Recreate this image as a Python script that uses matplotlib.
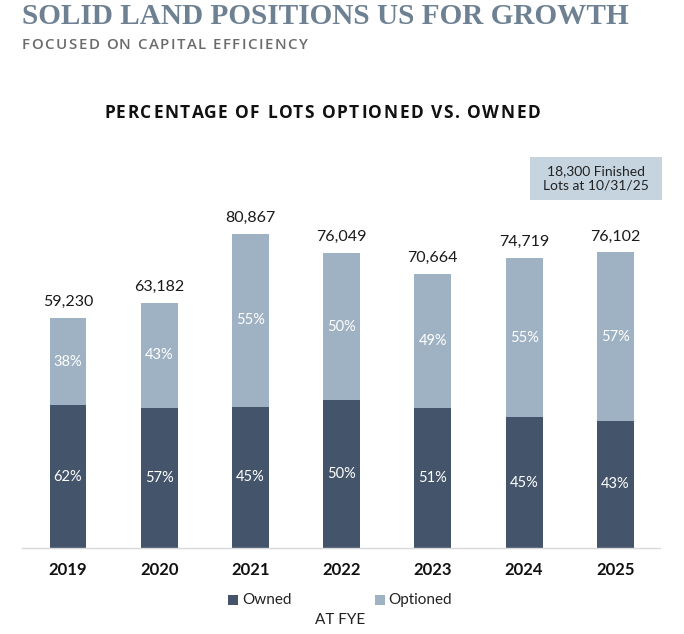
import matplotlib.pyplot as plt
import numpy as np
from matplotlib.patches import Rectangle

# data
years = ['2019', '2020', '2021', '2022', '2023', '2024', '2025']
total_lots = [59230, 63182, 80867, 76049, 70664, 74719, 76102]
owned_pct = [62, 57, 45, 50, 51, 45, 43]
optioned_pct = [38, 43, 55, 50, 49, 55, 57]

OWNED = '#44546a'
OPTIONED = '#9fb2c3'
SANS = ['Lato', 'DejaVu Sans']
WIDE = ['Open Sans', 'DejaVu Sans']


def spaced_text(fig, x_px, y_px, s, gap, ha='left', **kw):
    # letter-spaced text, positions in pixels from the top left
    r = fig.canvas.get_renderer()
    W, H = fig.bbox.width, fig.bbox.height

    def width(txt):
        t = fig.text(0, 0, txt + 'X', **kw)
        w = t.get_window_extent(r).width
        t.remove()
        return w

    wx = width('')
    offs = [width(s[:i]) - wx + i * gap for i in range(len(s))]
    total = width(s) - wx + (len(s) - 1) * gap
    if ha == 'center':
        x_px -= total / 2
    for ch, o in zip(s, offs):
        if ch != ' ':
            fig.text((x_px + o) / W, 1 - y_px / H, ch, ha='left', va='center', **kw)


def draw_chart():
    fig = plt.figure(figsize=(6.84, 6.34), dpi=100)
    ax = fig.add_axes([22 / 684, 86 / 634, 638 / 684, 349.5 / 634])

    x = np.arange(len(years))
    total = np.array(total_lots, dtype=float)
    owned = total * np.array(owned_pct) / 100
    optioned = total * np.array(optioned_pct) / 100

    ax.bar(x, owned, width=0.405, color=OWNED, zorder=2)
    ax.bar(x, optioned, width=0.405, bottom=owned, color=OPTIONED, zorder=2)

    for i in range(len(years)):
        ax.text(x[i], owned[i] / 2, f'{owned_pct[i]}%', ha='center', va='center',
                color='white', fontsize=10.5, family=SANS)
        ax.text(x[i], owned[i] + optioned[i] / 2, f'{optioned_pct[i]}%', ha='center',
                va='center', color='white', fontsize=10.5, family=SANS)
        ax.text(x[i], total[i] + 2300, f'{total_lots[i]:,}', ha='center', va='bottom',
                color='#1a1a1a', fontsize=11.5, family=SANS)

    ax.set_xlim(-0.504, 6.49)
    ax.set_ylim(0, 90000)
    ax.set_xticks(x)
    ax.set_xticklabels(years, fontsize=12, fontweight='bold', family=SANS, color='#111111')
    ax.tick_params(axis='x', length=0, pad=10)
    ax.set_yticks([])
    for s in ['top', 'right', 'left']:
        ax.spines[s].set_visible(False)
    ax.spines['bottom'].set_color('#d9d9d9')
    ax.spines['bottom'].set_linewidth(1)

    # titles
    fig.text(22 / 684, 1 - 17 / 634, 'SOLID LAND POSITIONS US FOR GROWTH', ha='left',
             va='center', fontsize=21.1, fontweight='bold', color='#6e8193',
             family=['Liberation Serif', 'DejaVu Serif'])
    spaced_text(fig, 22, 45, 'FOCUSED ON CAPITAL EFFICIENCY', 1.5, fontsize=10.8,
                color='#6b6b6b', family=WIDE, fontweight=600)
    spaced_text(fig, 322, 113, 'PERCENTAGE OF LOTS OPTIONED VS. OWNED', 1.55, ha='center',
                fontsize=12.5, color='#111111', family=WIDE, fontweight='bold')

    # finished lots box
    box = Rectangle((530 / 684, 1 - 200 / 634), 132 / 684, 43 / 634,
                    transform=fig.transFigure, facecolor='#c5d4df', edgecolor='none')
    fig.patches.append(box)
    fig.text(596 / 684, 1 - 178.5 / 634, '18,300 Finished\nLots at 10/31/25', ha='center',
             va='center', fontsize=10, color='#222222', family=SANS, linespacing=1.3)

    # legend
    fig.patches.append(Rectangle((228 / 684, 1 - 605 / 634), 10 / 684, 10 / 634,
                                 transform=fig.transFigure, facecolor=OWNED, edgecolor='none'))
    fig.text(242 / 684, 1 - 600 / 634, 'Owned', ha='left', va='center', fontsize=11,
             color='#222222', family=SANS)
    fig.patches.append(Rectangle((375 / 684, 1 - 605 / 634), 10 / 684, 10 / 634,
                                 transform=fig.transFigure, facecolor=OPTIONED, edgecolor='none'))
    fig.text(388 / 684, 1 - 600 / 634, 'Optioned', ha='left', va='center', fontsize=11,
             color='#222222', family=SANS)
    fig.text(340 / 684, 1 - 620 / 634, 'AT FYE', ha='center', va='center', fontsize=11,
             color='#222222', family=SANS)

    fig.savefig('out.png', dpi=100)


if __name__ == '__main__':
    draw_chart()
